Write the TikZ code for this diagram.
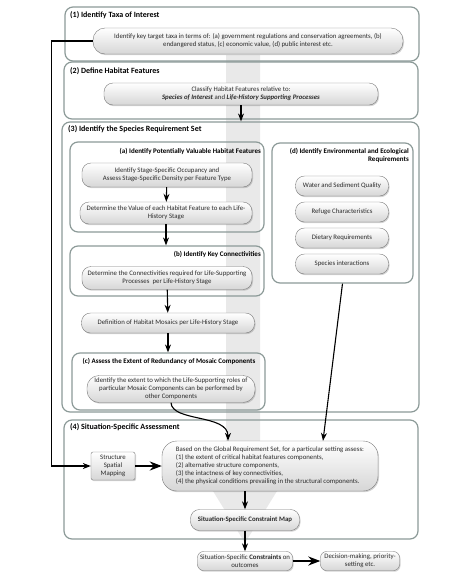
\documentclass[tikz,border=0pt]{standalone}
\usepackage{fontspec}
\setmainfont{Carlito}
\usetikzlibrary{arrows.meta, positioning, calc, shadows}
\definecolor{panelgray}{HTML}{8C9A98}
\definecolor{bandgray}{HTML}{E9E9E9}
\definecolor{boxline}{HTML}{7A7A7A}
\definecolor{inkgray}{HTML}{2A2A2A}

\begin{document}
\begin{tikzpicture}[x=1pt, y=-1pt, font=\fontsize{6.8}{8}\selectfont, >=Stealth,
  panel/.style={draw=panelgray, line width=1.2pt, rounded corners=8pt, inner sep=0pt},
  hd/.style={font=\fontsize{8}{9}\selectfont\bfseries, text=black, inner sep=0pt},
  subhd/.style={font=\fontsize{7}{8.5}\selectfont\bfseries, text=black, inner sep=0pt},
  oval/.style={draw=boxline, rounded corners=9pt, top color=white, bottom color=gray!32,
               drop shadow={opacity=0.35, shadow xshift=1pt, shadow yshift=-1.2pt},
               align=center, text=inkgray, inner sep=1pt, minimum width=#1},
  link/.style={->, line width=1.1pt},
  fat/.style={->, line width=2pt}]
  \useasboundingbox (0,0) rectangle (474,582);
  % --- background flow band ---
  \fill[bandgray] (226,55) -- (260,55) -- (260,470) -- (290,470) -- (245,543)
                  -- (200,470) -- (226,470) -- cycle;
  % --- panels ---
  \node[panel, minimum width=354, minimum height=54]  (p1) at (242,34) {};
  \node[panel, minimum width=354, minimum height=57]  (p2) at (241,90.5) {};
  \node[panel, minimum width=357, minimum height=290] (p3) at (240.5,267) {};
  \node[panel, minimum width=194, minimum height=90]  (pa) at (167,187) {};
  \node[panel, minimum width=194, minimum height=50]  (pb) at (167,271) {};
  \node[panel, minimum width=193, minimum height=57]  (pc) at (168.5,381.5) {};
  \node[panel, minimum width=141, minimum height=140] (pd) at (342.5,213) {};
  \node[panel, minimum width=354, minimum height=119] (p4) at (241,479.5) {};
  % --- titles ---
  \node[hd, anchor=west] (t1) at (70,15)  {(1) Identify Taxa of Interest};
  \node[hd, anchor=west] (t2) at (70,71)  {(2) Define Habitat Features};
  \node[hd, anchor=west] (t3) at (68,129) {(3) Identify the Species Requirement Set};
  \node[hd, anchor=west] (t4) at (70,427) {(4) Situation-Specific Assessment};
  \node[subhd, anchor=east] (ta) at (261,151) {(a) Identify Potentially Valuable Habitat Features};
  \node[subhd, anchor=east] (tb) at (261,254) {(b) Identify Key Connectivities};
  \node[subhd] (tc) at (169,361) {(c) Assess the Extent of Redundancy of Mosaic Components};
  \node[subhd, anchor=north east, align=right] (td) at (409,148)
    {(d) Identify Environmental and Ecological\\Requirements};
  % --- step boxes ---
  \node[oval=310, minimum height=26, rounded corners=12pt] (n1) at (248,41)
    {Identify key target taxa in terms of: (a) government regulations and conservation agreements, (b)\\
     endangered status, (c) economic value, (d) public interest etc.};
  \node[oval=274, minimum height=22] (n2) at (241,94)
    {Classify Habitat Features relative to:\\
     \textbf{\textit{Species of Interest}} and \textbf{\textit{Life-History Supporting Processes}}};
  \node[oval=170, minimum height=24] (a1) at (167,175)
    {Identify Stage-Specific Occupancy and\\Assess Stage-Specific Density per Feature Type};
  \node[oval=172, minimum height=22] (a2) at (166,213)
    {Determine the Value of each Habitat Feature to each Life-\\History Stage};
  \node[oval=170, minimum height=23] (b1) at (167,278)
    {Determine the Connectivities required for Life-Supporting\\Processes~ per Life-History Stage};
  \node[oval=173, minimum height=20] (m1) at (168,323)
    {Definition of Habitat Mosaics per Life-History Stage};
  \node[oval=168, minimum height=27, rounded corners=12pt] (c1) at (171,389)
    {Identify the extent to which the Life-Supporting roles of\\
     particular Mosaic Components can be performed by\\other Components};
  \foreach \i/\lab in {0/Water and Sediment Quality, 1/Refuge Characteristics,
                       2/Dietary Requirements, 3/Species interactions}{
    \node[oval=93, minimum height=20] (d\i) at (342,186+\i*26) {\lab};
  }
  \node[oval=44, minimum height=28, rounded corners=2pt] (ssm) at (113,466)
    {Structure\\Spatial\\Mapping};
  \node[oval=216, minimum height=50, rounded corners=15pt, align=left, inner xsep=10pt] (g) at (270,466)
    {Based on the Global Requirement Set, for a particular setting assess:\\
     (1) the extent of critical habitat features components,\\
     (2) alternative structure components,\\
     (3) the intactness of key connectivities,\\
     (4) the physical conditions prevailing in the structural components.};
  \node[oval=109, minimum height=21] (map) at (245,520)
    {\textbf{Situation-Specific Constraint Map}};
  \node[oval=95, minimum height=19, rounded corners=6pt] (out) at (245,561)
    {Situation-Specific \textbf{Constraints} on\\outcomes};
  \node[oval=79, minimum height=19, rounded corners=6pt] (dec) at (360,561)
    {Decision-making, priority-\\setting etc.};
  % --- connectors ---
  \draw[link] (n1.west) -- ++(-41,0) |- (ssm.west);
  \draw[link] (n2.south) -- (n2.south |- p3.north);
  \draw[link] (a1) -- (a2);
  \draw[link] (a2.south) -- (a2.south |- pb.north);
  \draw[link] (b1) -- (m1);
  \draw[link] (m1.south) -- (m1.south |- pc.north);
  \draw[link] (c1.south) .. controls (172,422) and (228,414) .. ($(g.north)+(-42,0)$);
  \draw[link] (pd.south) -- ($(g.north)+(53,0)$);
  \draw[fat] (ssm) -- (g);
  \draw[link] (g.south -| map) -- (map);
  \draw[link] (map) -- (out);
  \draw[fat] (out) -- (dec);
\end{tikzpicture}
\end{document}
